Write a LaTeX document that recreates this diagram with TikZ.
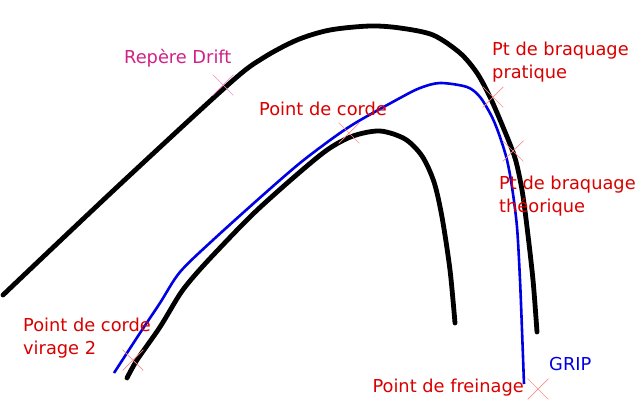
\documentclass[tikz,border=0pt]{standalone}
\usepackage{fontspec}
\setmainfont{DejaVu Sans}
\usetikzlibrary{shapes.misc}

\begin{document}
\begin{tikzpicture}[x=1pt, y=-1pt]
			\tikzset{croix/.style={cross out, draw=red!45, line width=0.7pt, minimum size=20pt, inner sep=0pt}, etiquette/.style={text=red!85!black, font=\fontsize{17.8}{22.5}\selectfont, align=left, inner sep=0pt}, bord/.style={line width=4.8pt, line cap=round, line join=round}, trajectoire/.style={blue!90!black, line width=2.6pt, line join=round}};

			\useasboundingbox (0,0) rectangle (640,400);

			% bords de la piste
			\draw[bord] plot[smooth] coordinates {(3,295) (115,189) (230,83) (263,58) (297,40) (330,30) (370,26) (400,28) (433,35) (460,53) (477,73) (490,97) (503,127) (515,158) (522,190) (527,227) (533,280) (537,332)};
			\draw[bord] plot[smooth] coordinates {(127,378) (137,360) (160,327) (180,294) (195,275) (217,251) (253,214) (293,178) (327,150) (353,136) (380,131) (405,139) (422,156) (434,182) (442,217) (450,270) (455,323)};

			% trajectoire
			\draw[trajectoire] plot[smooth] coordinates {(114,373) (140,333) (160,303) (180,272) (213,240) (263,195) (300,163) (333,138) (357,122) (400,98) (420,88) (440,83) (467,87) (480,97) (492,117) (500,137) (507,160) (512,187) (517,227) (520,280) (522,330) (524,384)};

			\node[croix, draw=magenta!45] (drift) at (223,85) {};
			\node[croix] (corde)     at (349,133) {};
			\node[croix] (pratique)  at (493, 97) {};
			\node[croix] (theorique) at (513,151) {};
			\node[croix] (virage)    at (133,360) {};
			\node[croix] (freinage)  at (538,389) {};

			\node[etiquette, text=magenta!85!black, anchor=west] (ldrift) at (124, 58) {Repère Drift};
			\node[etiquette, anchor=west] (lcorde)     at (259,109) {Point de corde};
			\node[etiquette, anchor=west] (lpratique)  at (492, 62) {Pt de braquage\\pratique};
			\node[etiquette, anchor=west] (ltheorique) at (499,196) {Pt de braquage\\théorique};
			\node[etiquette, anchor=west] (lvirage)    at ( 23,338) {Point de corde\\virage 2};
			\node[etiquette, anchor=east] (lfreinage)  at (524,388) {Point de freinage};
			\node[etiquette, text=blue!90!black, anchor=west] (grip) at (549,364) {GRIP};

		\end{tikzpicture}
\end{document}
